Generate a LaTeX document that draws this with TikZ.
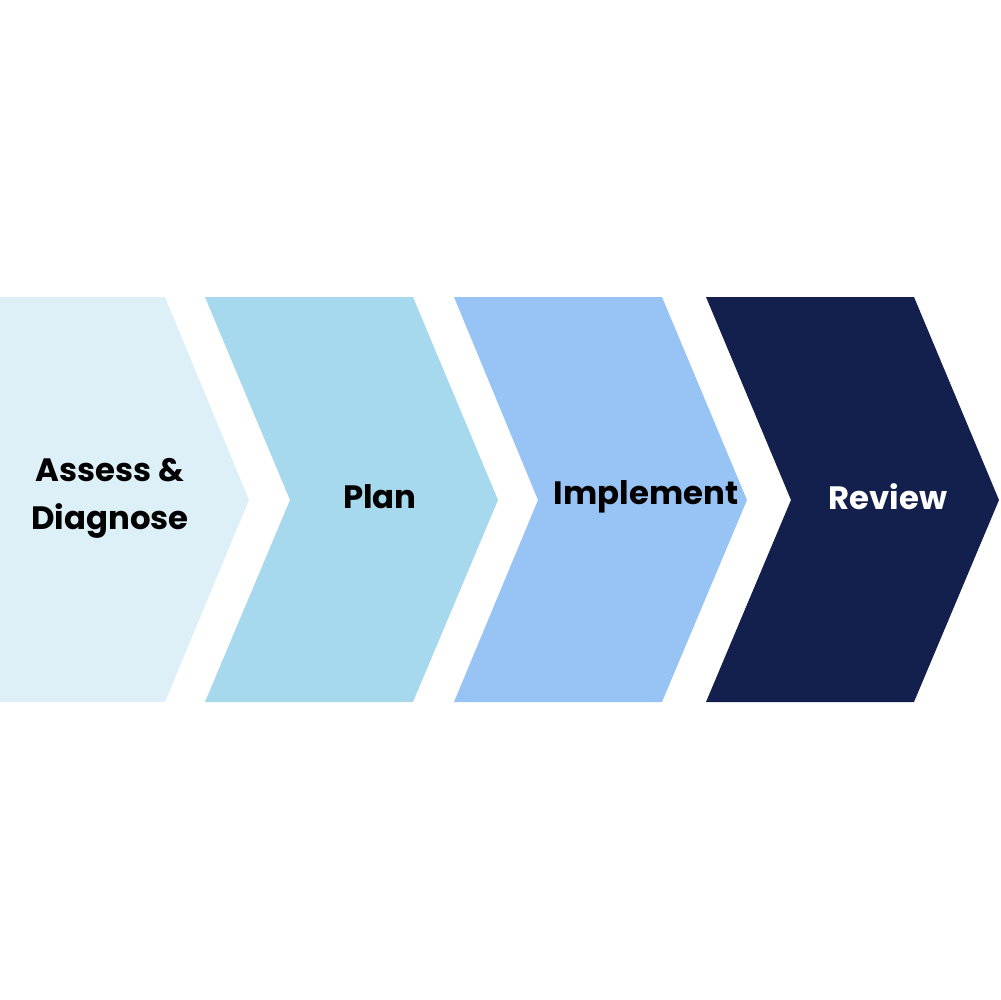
\documentclass[tikz,border=0pt]{standalone}
\usepackage{fontspec}
\setmainfont{Poppins}
\definecolor{stepA}{HTML}{DDF0F8}
\definecolor{stepB}{HTML}{A6D8EE}
\definecolor{stepC}{HTML}{97C4F5}
\definecolor{stepD}{HTML}{131F4D}
\begin{document}
\begin{tikzpicture}[
    x=0.1mm, y=-0.1mm,
    steplabel/.style={align=center, font=\fontsize{9.2}{13.6}\selectfont\bfseries, inner sep=0pt}
]
\useasboundingbox (0,0) rectangle (1000,1000);

% Chevrons
\fill[stepA] (0,297) -- (165,297) -- (249,500) -- (165,702) -- (0,702) -- cycle;
\fill[stepB] (205,297) -- (413,297) -- (498,500) -- (413,702) -- (205,702) -- (290,500) -- cycle;
\fill[stepC] (454,297) -- (662,297) -- (747,500) -- (662,702) -- (454,702) -- (538,500) -- cycle;
\fill[stepD] (706,297) -- (914,297) -- (999,500) -- (914,702) -- (706,702) -- (791,500) -- cycle;

% Labels
\node[steplabel] (assess) at (110,498) {Assess \&\\Diagnose};
\node[steplabel] (plan) at (380,497) {Plan};
\node[steplabel] (implement) at (646,497) {Implement};
\node[steplabel, text=white] (review) at (888,497) {Review};
\end{tikzpicture}
\end{document}
